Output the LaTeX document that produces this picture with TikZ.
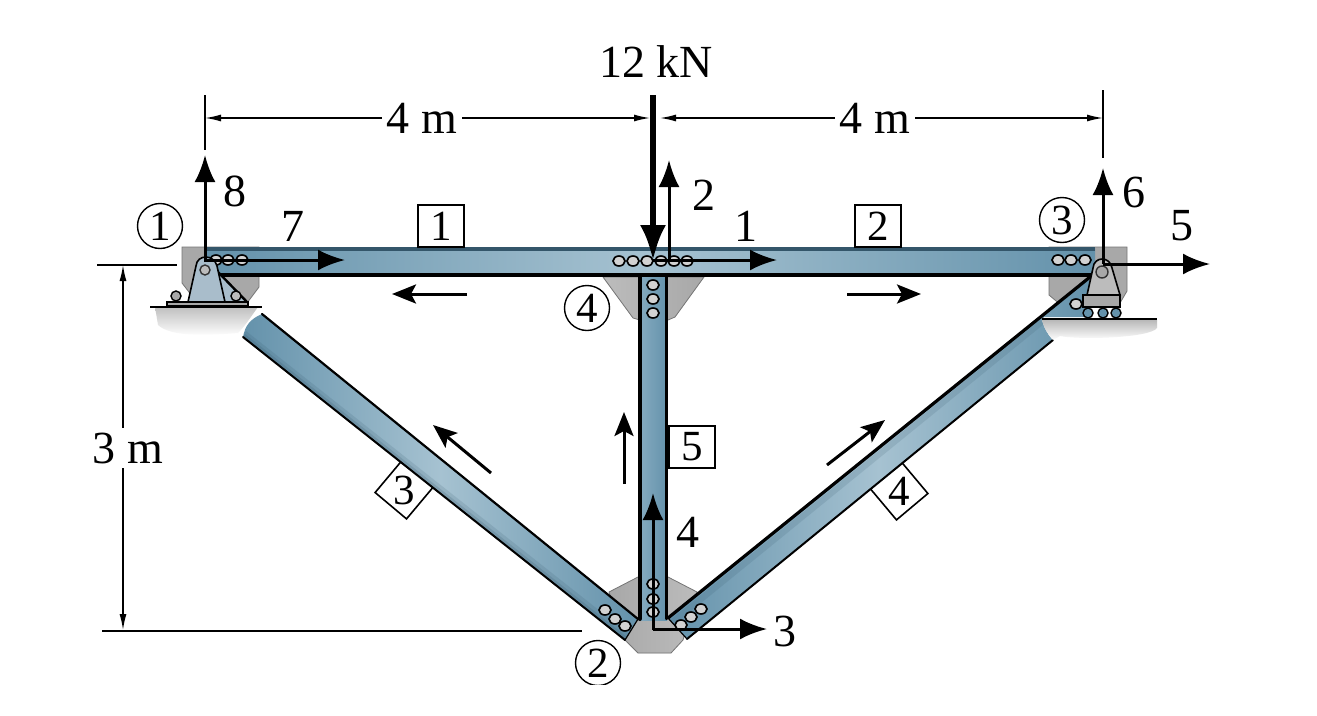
\documentclass[tikz,border=0pt]{standalone}
\usepackage{fontspec}
\setmainfont{Liberation Serif}
\usetikzlibrary{arrows.meta,calc,shapes.geometric}
\definecolor{steelA}{HTML}{6492AB}
\definecolor{steelB}{HTML}{A6C2D1}
\definecolor{steelC}{HTML}{86ABC0}
\definecolor{steelD}{HTML}{34566A}
\definecolor{plateA}{HTML}{A8A8A8}
\definecolor{plateB}{HTML}{BCBCBC}
\definecolor{bracket}{HTML}{A9BDCB}
\tikzset{
  lab/.style={font=\fontsize{46}{46}\selectfont,inner sep=0pt,text=black},
  circlab/.style={draw=black,line width=1.4pt,circle,minimum size=45pt,inner sep=0pt,font=\fontsize{43}{43}\selectfont},
  boxlab/.style={draw=black,line width=1.6pt,fill=white,minimum width=46pt,minimum height=42pt,inner sep=0pt,font=\fontsize{43}{43}\selectfont},
  diamlab/.style={boxlab,minimum width=41pt,minimum height=41pt},
  force/.style={line width=3pt,-{Latex[length=27pt,width=21pt]}},
  free/.style={line width=3pt,-{Stealth[length=24pt,width=19pt,inset=5pt]}},
  dimline/.style={line width=1.4pt,{Latex[length=16pt,width=7pt]}-{Latex[length=16pt,width=7pt]}},
  ext/.style={line width=1.4pt},
  gusset/.style={fill=plateA,draw=plateA!70!black,line width=.8pt},
  edge/.style={draw=black,line cap=round},
  bolt/.style={ellipse,draw=black,line width=1.6pt,fill=gray!35,minimum width=12pt,minimum height=10pt,inner sep=0pt},
}
\begin{document}
\begin{tikzpicture}[x=1pt,y=-1pt]
\useasboundingbox (0,0) rectangle (1317,715);
\fill[white] (0,0) rectangle (1317,715);
% joints
\coordinate (J1) at (205,262);
\coordinate (J3) at (1103,264);
\coordinate (J4) at (653,261);
\coordinate (J2) at (653,630);
% member labels that the diagonals overlap
\node[diamlab,rotate=-40] (b3) at (404,490) {\rotatebox{40}{3}};
\node[diamlab,rotate=40] (b4) at (899,491) {\rotatebox{-40}{4}};
% gussets
\path[gusset] (182,247)--(182,283)--(192,296)--(247,303)--(259,287)--(259,247)--cycle;
\path[gusset] (1049,247)--(1049,295)--(1062,306)--(1120,303)--(1127,291)--(1127,247)--cycle;
\path[gusset,left color=plateB,right color=plateA] (603,277)--(633,318)--(640,320)--(668,320)--(675,317)--(704,277)--cycle;
\path[gusset,left color=plateA,right color=plateB] (609,592)--(638,577)--(668,577)--(697,592)--(683,640)--(671,653)--(638,653)--(625,640)--cycle;
% member 3
\shade[shading angle=-129,left color=steelA,right color=steelA,middle color=steelB] (262,314) .. controls (250,319) and (245,326) .. (243,337)--(625,640)--(638,619)--cycle;
\fill[steelD,opacity=.15] (243,337)--(625,640)--(629,634)--(246,331)--cycle;
\fill[steelD,opacity=.2] (243,337)--(625,640)--(627,637)--(245,334)--cycle;
\draw[edge,line width=2.2pt] (262,314)--(638,619);
\draw[edge,line width=2pt] (243,337)--(625,640);
\draw[edge,line width=1.2pt] (625,640)--(638,619);
% member 4
\shade[shading angle=-51,left color=steelA,right color=steelA,middle color=steelB] (668,618)--(1090,277)--(1086,317)--(1044,317)--(1042,320) .. controls (1044,328) and (1048,335) .. (1053,340)--(687,639)--cycle;
\fill[steelD,opacity=.15] (670,620)--(1040,320)--(1044,324)--(674,625)--cycle;
\draw[edge,line width=3.2pt] (668,618)--(1090,277);
\draw[edge,line width=2pt] (1053,340)--(687,639);
\draw[edge,line width=1.2pt] (668,618)--(687,639);
% member 5
\shade[left color=steelC,right color=steelA] (639,275) rectangle (667,620);
\draw[edge,line width=4pt] (639.5,275)--(639.5,619);
\draw[edge,line width=2.2pt] (666.5,275)--(666.5,619);
% beam
\shade[left color=steelA,right color=steelA,middle color=steelB] (205,248) rectangle (1095,275);
\fill[steelD] (205,247) rectangle (1095,251);
\draw[black,line width=4.4pt] (205,275)--(1095,275);
% bolts
\foreach \n/\x/\y in {a/216/260,b/228/260,c/242/260,d/1058/260,e/1071/260,f/1085/260,
  g/619/261,h/633/261,i/647/261,j/661/261,k/674/261,l/687/261,
  m/653/285,n/653/299,o/653/313,p/653/584,q/653/599,r/653/612,
  s/605/610,t/615/619,u/625/626,v/681/625,w/691/617,x/701/609,y/1076/304}
  \node[bolt] (bolt\n) at (\x,\y) {};
% left support
\shade[top color=gray!50,bottom color=white] (155,307)--(258,307) .. controls (250,318) and (245,326) .. (238,333) .. controls (200,336) and (170,336) .. (158,325)--cycle;
\fill[bracket] (218,272)--(247,303)--(225,303)--cycle;
\draw[black,line width=2.4pt] (218,272)--(247,302);
\draw[black,line width=2pt,fill=plateA] (167,302) rectangle (248,306);
\draw[black,line width=2pt] (150,307)--(262,307);
\node[circle,draw=black,fill=plateA,line width=1.4pt,minimum size=10pt,inner sep=0pt] (nutL) at (176,296) {};
\node[circle,draw=black,fill=plateB,line width=1.4pt,minimum size=10pt,inner sep=0pt] (nutR) at (236,296) {};
\filldraw[fill=bracket,draw=black,line width=1.6pt] (188,302)--(196,266) .. controls (197,254) and (214,254) .. (217,266)--(225,302)--cycle;
\node[circle,draw=black!80,fill=plateB,line width=1.4pt,minimum size=10pt,inner sep=0pt] (pinL) at (205,270) {};
% right support
\shade[top color=gray!55,bottom color=white] (1044,320)--(1157,320)--(1157,328) .. controls (1150,338) and (1080,340) .. (1060,336)--(1053,340) .. controls (1048,335) and (1044,328) .. (1042,320)--cycle;
\foreach \n/\x in {a/1088,b/1103,c/1116}
  \node[circle,draw=black,fill=steelA,line width=1.4pt,minimum size=10pt,inner sep=0pt] (roller\n) at (\x,313) {};
\draw[black,line width=2pt] (1042,319)--(1157,319);
\filldraw[fill=plateA,draw=black,line width=1.6pt] (1083,295) rectangle (1120,307);
\filldraw[fill=plateB,draw=black,line width=1.6pt] (1087,295)--(1093,268) .. controls (1094,256) and (1110,256) .. (1112,268)--(1120,295)--cycle;
\node[circle,draw=black!80,fill=plateA,line width=1.4pt,minimum size=12pt,inner sep=0pt] (pinR) at (1102,272) {};
% dimensions
\coordinate (dL) at (205,118); \coordinate (dM) at (650,118); \coordinate (dN) at (660,118); \coordinate (dR) at (1103,118);
\coordinate (dT) at (123,265); \coordinate (dB) at (123,630);
\draw[dimline] (dL)--(dM);
\draw[dimline] (dN)--(dR);
\draw[dimline] (dT)--(dB);
\node[lab,fill=white,inner xsep=5pt] (dim1) at (422,118) {4 m};
\node[lab,fill=white,inner xsep=5pt] (dim2) at (875,118) {4 m};
\node[lab,fill=white,inner ysep=5pt] (dim3) at (128,448) {3 m};
\coordinate (e1a) at (205,95); \coordinate (e1b) at (205,150);
\coordinate (e2a) at (1103,90); \coordinate (e2b) at (1103,158);
\coordinate (e3a) at (97,265); \coordinate (e3b) at (177,265);
\coordinate (e4a) at (102,631); \coordinate (e4b) at (582,631);
\draw[ext] (e1a)--(e1b);
\draw[ext] (e2a)--(e2b);
\draw[ext] (e3a)--(e3b);
\draw[ext] (e4a)--(e4b);
% DOF arrows
\coordinate (t8) at (205,155); \coordinate (t7) at (345,260);
\coordinate (t6) at (1103,168); \coordinate (t5) at (1210,264);
\coordinate (t1) at (777,260); \coordinate (t2) at (669,160); \coordinate (s2) at (669,261);
\coordinate (t4) at (653,493); \coordinate (t3) at (767,629);
\draw[force] (J1)--(t8);
\draw[force] (J1|-t7)--(t7);
\draw[force] (J3)--(t6);
\draw[force] (J3)--(t5);
\draw[force] (J4|-t1)--(t1);
\draw[force] (s2)--(t2);
\draw[force] (J2)--(t4);
\draw[force] (J2|-t3)--(t3);
% load
\coordinate (l0) at (653,95);
\draw[line width=6.5pt,-{Latex[length=36pt,width=26pt]}] (l0)--(J4);
% member force arrows
\coordinate (f1a) at (467,294); \coordinate (f1b) at (392,294);
\coordinate (f2a) at (847,294); \coordinate (f2b) at (921,294);
\coordinate (f3a) at (624,484); \coordinate (f3b) at (624,412);
\coordinate (f4a) at (491,473); \coordinate (f4b) at (433,425);
\coordinate (f5a) at (827,465); \coordinate (f5b) at (885,420);
\draw[free] (f1a)--(f1b);
\draw[free] (f2a)--(f2b);
\draw[free] (f3a)--(f3b);
\draw[free] (f4a)--(f4b);
\draw[free] (f5a)--(f5b);
% labels
\node[lab] (load) at (656,62) {12 kN};
\node[lab] (n8) at (235,191) {8};
\node[lab] (n7) at (293,226) {7};
\node[lab] (n2) at (704,195) {2};
\node[lab] (n1) at (746,226) {1};
\node[lab] (n6) at (1134,192) {6};
\node[lab] (n5) at (1182,226) {5};
\node[lab] (n4) at (688,532) {4};
\node[lab] (n3) at (785,631) {3};
\node[circlab] (c1) at (160,226) {1};
\begin{scope}
\clip (560,630) rectangle (640,684);
\node[circlab] (c2) at (598,663) {2};
\end{scope}
\node[circlab] (c3) at (1062,220) {3};
\node[circlab] (c4) at (587,308) {4};
\node[boxlab] (b1) at (441,226) {1};
\node[boxlab] (b2) at (878,226) {2};
\node[boxlab] (b5) at (692,447) {5};
\end{tikzpicture}
\end{document}
